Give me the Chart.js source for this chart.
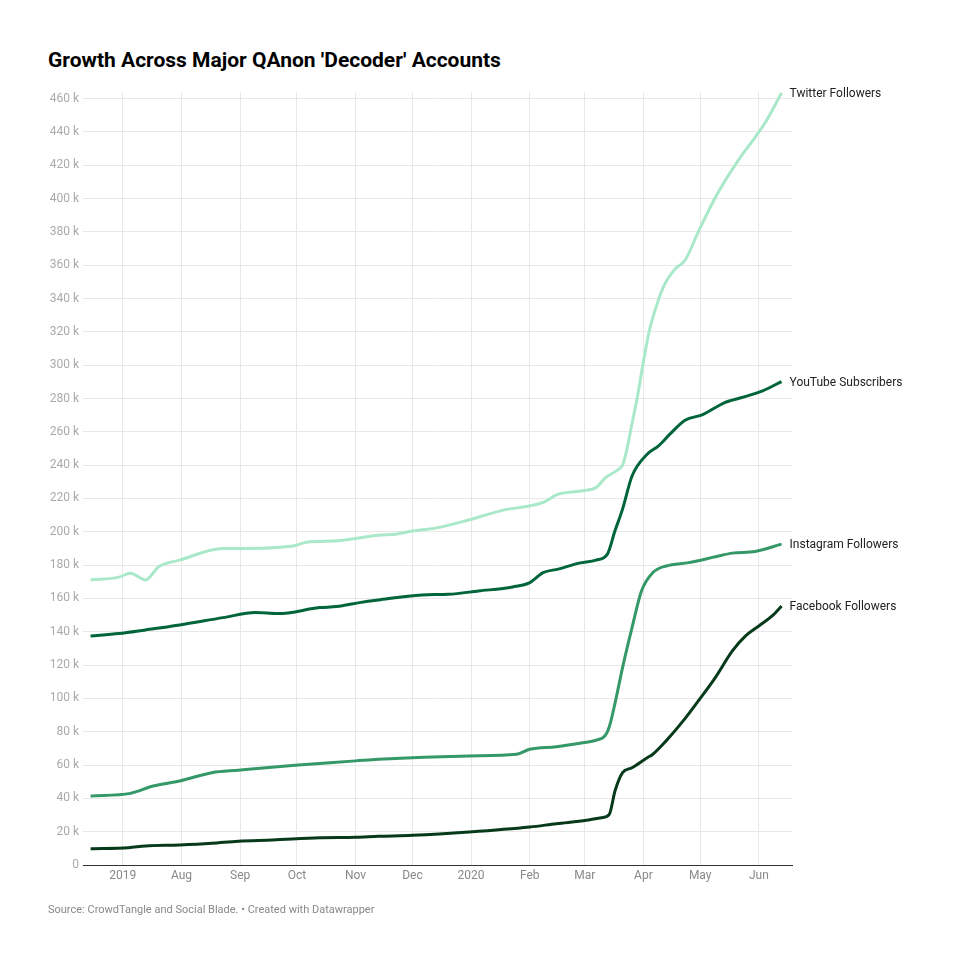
<!DOCTYPE html>
<html>
<head>
<meta charset="utf-8">
<title>Growth Across Major QAnon 'Decoder' Accounts</title>
<script src="https://cdn.jsdelivr.net/npm/chart.js@4.4.0/dist/chart.umd.min.js"></script>
<style>
  html, body { margin: 0; padding: 0; background: #fff; }
  body { width: 970px; height: 970px; position: relative; overflow: hidden; font-family: Roboto, sans-serif; }
  #titulo { position: absolute; left: 48px; top: 48px; margin: 0; font-size: 21px; line-height: 24px; font-weight: 700; color: #000; }
  #fuente { position: absolute; left: 48px; top: 903px; font-size: 11px; line-height: 14px; color: #888; }
  #grafico { position: absolute; left: 0; top: 0; }
</style>
</head>
<body>
<h1 id="titulo">Growth Across Major QAnon 'Decoder' Accounts</h1>
<canvas id="grafico" width="970" height="970"></canvas>
<div id="fuente">Source: CrowdTangle and Social Blade. • Created with Datawrapper</div>

<script>
// values, in thousands
const twitterDates = ['2019-06-14','2019-06-29','2019-07-05','2019-07-13','2019-07-20','2019-07-31','2019-08-23','2019-08-31','2019-09-29','2019-10-06','2019-10-23','2019-11-01','2019-11-13','2019-11-22','2019-12-01','2019-12-13','2019-12-31','2020-01-18','2020-01-30','2020-02-08','2020-02-16','2020-02-29','2020-03-07','2020-03-12','2020-03-19','2020-03-21','2020-03-23','2020-03-26','2020-03-29','2020-04-01','2020-04-04','2020-04-08','2020-04-12','2020-04-18','2020-04-23','2020-04-30','2020-05-09','2020-05-21','2020-05-30','2020-06-05','2020-06-13'];
const twitterK = [171.1,172.8,175.2,171.1,179,183,190,190,191.5,193.8,194.6,196,198,198.6,200.5,202.2,207.2,213,215.2,217.6,222.6,224.6,226.6,232.5,237.6,240,248,265,282,302,320,336,348,358,363,380,400.7,422.8,436.8,446.8,463.5];

const youtubeDates = ['2019-06-14','2019-06-29','2019-07-13','2019-07-31','2019-08-23','2019-09-09','2019-09-21','2019-10-13','2019-10-22','2019-11-03','2019-11-13','2019-12-06','2019-12-20','2020-01-05','2020-01-23','2020-02-01','2020-02-08','2020-02-16','2020-02-27','2020-03-07','2020-03-13','2020-03-17','2020-03-21','2020-03-26','2020-04-03','2020-04-09','2020-04-15','2020-04-23','2020-05-02','2020-05-14','2020-05-23','2020-06-03','2020-06-13'];
const youtubeK = [137.5,138.9,141.1,144.1,148.5,151.5,150.9,154.5,155.1,157.5,159.1,162.1,162.5,164.5,166.9,169.5,175.5,177.6,181.2,183,186.6,200.6,213.6,233.5,246.6,251.6,258.6,267,270.2,277.6,280.6,284.6,290.2];

const instagramDates = ['2019-06-14','2019-07-05','2019-07-17','2019-07-31','2019-08-17','2019-08-31','2019-09-30','2019-11-01','2019-11-13','2019-12-31','2020-01-25','2020-02-01','2020-02-15','2020-02-29','2020-03-07','2020-03-12','2020-03-14','2020-03-17','2020-03-21','2020-03-26','2020-03-31','2020-04-06','2020-04-13','2020-04-25','2020-05-09','2020-05-18','2020-05-30','2020-06-13'];
const instagramK = [41.4,43.0,47.4,50.4,55.4,56.9,59.9,62.5,63.5,65.5,66.5,69.5,71,73.4,74.9,78,83,97,118.5,142.5,164.5,175.5,179.5,181.5,185,187.2,188.2,192.6];

const facebookDates = ['2019-06-14','2019-07-04','2019-07-13','2019-07-31','2019-08-17','2019-08-31','2019-09-18','2019-10-13','2019-11-01','2019-11-13','2019-12-01','2019-12-31','2020-02-01','2020-02-15','2020-03-02','2020-03-10','2020-03-14','2020-03-17','2020-03-21','2020-03-26','2020-04-03','2020-04-06','2020-04-13','2020-04-22','2020-04-30','2020-05-09','2020-05-18','2020-05-25','2020-06-01','2020-06-08','2020-06-13'];
const facebookK = [9.8,10.4,11.4,12.0,13.0,14.3,15.0,16.3,16.6,17.2,17.8,19.8,22.8,24.8,26.8,28.4,30.4,44.4,55.4,58.4,64.4,66.5,74.5,86.5,98.5,112.5,128.5,137.5,143.5,149.5,155.5];

// x axis: first day of each month, labels as printed
const monthStarts = ['2019-07-01','2019-08-01','2019-09-01','2019-10-01','2019-11-01','2019-12-01','2020-01-01','2020-02-01','2020-03-01','2020-04-01','2020-05-01','2020-06-01'];
const monthLabels = ['2019','Aug','Sep','Oct','Nov','Dec','2020','Feb','Mar','Apr','May','Jun'];
const yTicks = [0,20000,40000,60000,80000,100000,120000,140000,160000,180000,200000,220000,240000,260000,280000,300000,320000,340000,360000,380000,400000,420000,440000,460000];

const origen = Date.UTC(2019, 6, 1);
function dia(s) {
  let p = s.split('-');
  return (Date.UTC(+p[0], +p[1] - 1, +p[2]) - origen) / 86400000;
}
function puntos(fechas, valoresK) {
  return fechas.map((f, i) => ({ x: dia(f), y: valoresK[i] * 1000 }));
}

function serie(label, fechas, valoresK, color) {
  return {
    label: label,
    data: puntos(fechas, valoresK),
    borderColor: color,
    backgroundColor: color,
    borderWidth: 3,
    pointRadius: 0,
    cubicInterpolationMode: 'monotone',
    clip: false
  };
}

// names at the end of each line
const etiquetasLinea = {
  id: 'etiquetasLinea',
  afterDatasetsDraw(chart) {
    const ctx = chart.ctx;
    ctx.save();
    ctx.font = '12px Roboto';
    ctx.fillStyle = '#222';
    ctx.textBaseline = 'middle';
    ctx.textAlign = 'left';
    chart.data.datasets.forEach((ds, i) => {
      let pts = chart.getDatasetMeta(i).data;
      let ultimo = pts[pts.length - 1];
      ctx.fillText(ds.label, ultimo.x + 8, ultimo.y + 1);
    });
    ctx.restore();
  }
};

Chart.defaults.font.family = 'Roboto';

const ctx = document.getElementById('grafico');
const myChart = new Chart(ctx, {
  type: 'line',
  data: {
    datasets: [
      serie('Twitter Followers', twitterDates, twitterK, '#a9e8c9'),
      serie('YouTube Subscribers', youtubeDates, youtubeK, '#00653a'),
      serie('Instagram Followers', instagramDates, instagramK, '#359868'),
      serie('Facebook Followers', facebookDates, facebookK, '#073a1b')
    ]
  },
  options: {
    responsive: false,
    animation: false,
    devicePixelRatio: 1,
    layout: { padding: { left: 48, right: 178, top: 92, bottom: 75 } },
    plugins: { legend: { display: false }, tooltip: { enabled: false } },
    scales: {
      x: {
        type: 'linear',
        min: -21,
        max: 353.5,
        afterBuildTicks: s => { s.ticks = monthStarts.map(m => ({ value: dia(m) })); },
        afterFit: s => { s.height = 30; },
        ticks: {
          autoSkip: false,
          maxRotation: 0,
          color: '#888',
          font: { size: 12 },
          padding: 4,
          callback: (v, i) => monthLabels[i]
        },
        grid: { color: '#e8e8e8', drawTicks: false },
        border: { color: '#333', width: 1 }
      },
      y: {
        min: 0,
        max: 464000,
        afterBuildTicks: s => { s.ticks = yTicks.map(v => ({ value: v })); },
        afterFit: s => { s.width = 35; },
        ticks: {
          color: '#aaa',
          font: { size: 12 },
          padding: 4,
          callback: v => v === 0 ? '0' : (v / 1000) + ' k'
        },
        grid: { color: '#e8e8e8', drawTicks: false },
        border: { display: false }
      }
    }
  },
  plugins: [etiquetasLinea]
}); // end chart
</script>
</body>
</html>
